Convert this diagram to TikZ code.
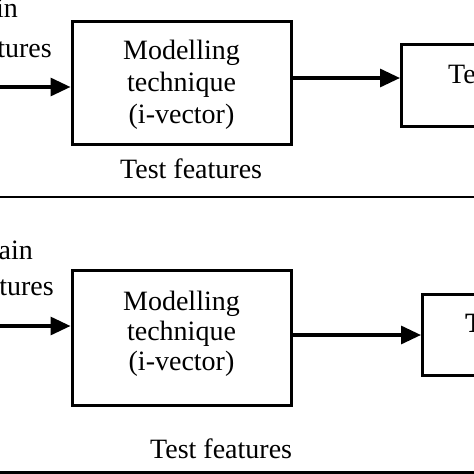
\documentclass[tikz,border=0pt]{standalone}
\usepackage{fontspec}
\setmainfont{Liberation Serif}
\usetikzlibrary{arrows.meta}
\begin{document}
\begin{tikzpicture}[x=1pt,y=-1pt,
  blk/.style={draw=black,line width=3pt,inner sep=0pt},
  txt/.style={font=\fontsize{28}{32}\selectfont,inner sep=0pt,align=center},
  txtb/.style={font=\fontsize{28}{30}\selectfont,inner sep=0pt,align=center},
  frag/.style={font=\fontsize{28}{32}\selectfont,inner sep=0pt},
  arr/.style={line width=3.2pt,-{Triangle[length=20pt,width=18pt]}},
  sep/.style={line width=2.6pt}]
\useasboundingbox (0,0) rectangle (474,474);
\clip (0,0) rectangle (474,474);
% ---------- top panel ----------
\node[blk,minimum width=219pt,minimum height=123pt] (m1) at (181.5,82.5) {};
\node[txt] (m1t) at (181.5,85) {Modelling\\technique\\(i-vector)};
\node[blk,minimum width=160pt,minimum height=82pt,anchor=north west] (t1) at (400,43) {};
\node[frag,anchor=base west] (t1t) at (448,83) {Te};
\node[frag,anchor=base east] (l1a) at (18,17) {in};
\node[frag,anchor=base east] (l1b) at (52,57) {tures};
\node[frag,anchor=base west] (f1) at (120,178) {Test features};
\coordinate (s1) at (0,87);
\draw[arr] (s1) -- (s1 -| m1.west);
\coordinate (o1) at (291,78);
\draw[arr] (o1 -| m1.east) -- (o1 -| t1.west);
\coordinate (h1a) at (0,197);
\coordinate (h1b) at (474,197);
\draw[sep] (h1a) -- (h1b);
% ---------- bottom panel ----------
\node[blk,minimum width=219pt,minimum height=135pt] (m2) at (181.5,337.5) {};
\node[txtb] (m2t) at (181.5,334) {Modelling\\technique\\(i-vector)};
\node[blk,minimum width=160pt,minimum height=81pt,anchor=north west] (t2) at (421,293) {};
\node[frag,anchor=base west,font=\fontsize{28}{32}\selectfont\bfseries] (t2t) at (465,332) {T};
\node[frag,anchor=base east] (l2a) at (33,259) {ain};
\node[frag,anchor=base east] (l2b) at (54,295) {tures};
\node[frag,anchor=base west] (f2) at (150,458) {Test features};
\coordinate (s2) at (0,326);
\draw[arr] (s2) -- (s2 -| m2.west);
\coordinate (o2) at (291,335);
\draw[arr] (o2 -| m2.east) -- (o2 -| t2.west);
\coordinate (h2a) at (0,473);
\coordinate (h2b) at (474,473);
\draw[line width=4pt] (h2a) -- (h2b);
\end{tikzpicture}
\end{document}
